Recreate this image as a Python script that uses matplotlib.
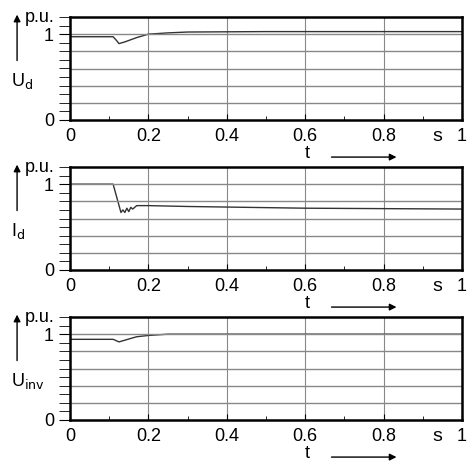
import numpy as np
import matplotlib
matplotlib.use("Agg")
import matplotlib.pyplot as plt
from matplotlib.ticker import MultipleLocator

plt.rcParams['font.family'] = ['Liberation Sans', 'DejaVu Sans']

t_ud = [0, 0.11, 0.118, 0.125, 0.14, 0.17, 0.2, 0.25, 0.3, 0.5, 1.0]
ud   = [0.97, 0.97, 0.93, 0.89, 0.91, 0.96, 1.0, 1.015, 1.025, 1.03, 1.03]
t_id = [0, 0.11, 0.13, 0.135, 0.14, 0.145, 0.15, 0.155, 0.16, 0.17, 0.2, 0.3, 0.6, 1.0]
i_d  = [1.0, 1.0, 0.67, 0.70, 0.67, 0.72, 0.68, 0.73, 0.71, 0.75, 0.75, 0.74, 0.72, 0.71]
t_ui = [0, 0.11, 0.125, 0.14, 0.17, 0.2, 0.25, 1.0]
uinv = [0.94, 0.94, 0.91, 0.93, 0.97, 0.985, 1.0, 1.0]

panels = [(t_ud, ud, "U$_\\mathrm{d}$"), (t_id, i_d, "I$_\\mathrm{d}$"), (t_ui, uinv, "U$_\\mathrm{inv}$")]
tops = [17, 167, 317]

fig = plt.figure(figsize=(4.74, 4.62), dpi=100)
W, H = 474, 462
for (tx, vals, lab), top in zip(panels, tops):
    ax = fig.add_axes([70/W, 1-(top+103)/H, 392/W, 103/H])
    ax.plot(tx, vals, color="#333333", lw=1)
    ax.set_xlim(0, 1)
    ax.set_ylim(0, 1.2)
    ax.set_xticks([0, 0.2, 0.4, 0.6, 0.8, 1])
    ax.set_xticklabels(["0", "0.2", "0.4", "0.6", "0.8", "1"])
    ax.xaxis.set_minor_locator(MultipleLocator(0.1))
    ax.set_yticks([0, 1])
    ax.set_yticklabels(["0", "1"])
    ax.yaxis.set_minor_locator(MultipleLocator(0.1))
    for y in [0.2, 0.4, 0.6, 0.8, 1.0]:
        ax.axhline(y, color="#888888", lw=1)
    ax.grid(axis="x", color="#888888", lw=0.8)
    ax.tick_params(axis="y", which="both", direction="out", length=8, labelsize=13)
    ax.tick_params(axis="x", which="major", direction="in", length=4, labelsize=13, pad=6)
    ax.tick_params(axis="x", which="minor", direction="in", length=3)
    for s in ax.spines.values():
        s.set_linewidth(1.8)
    # left label with arrow
    ax.annotate("", xy=(-0.135, 1.05), xytext=(-0.135, 0.55), xycoords="axes fraction",
                arrowprops=dict(arrowstyle="-|>", color="black", lw=1))
    ax.text(-0.115, 1.0, "p.u.", transform=ax.transAxes, fontsize=13, va="center")
    ax.text(-0.15, 0.38, lab, transform=ax.transAxes, fontsize=13, va="center")
    # t arrow
    ax.text(0.6, -0.33, "t", transform=ax.transAxes, fontsize=13, va="center")
    ax.annotate("", xy=(0.84, -0.36), xytext=(0.66, -0.36), xycoords="axes fraction",
                arrowprops=dict(arrowstyle="-|>", color="black", lw=1))
    ax.text(0.925, -0.16, "s", transform=ax.transAxes, fontsize=14, va="center")

fig.savefig("out.png", dpi=100)
